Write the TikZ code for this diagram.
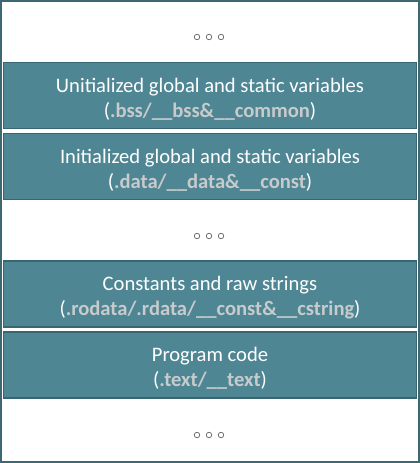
\documentclass[tikz,border=0pt]{standalone}
\usepackage{fontspec}
\setmainfont{Carlito}
\definecolor{frame}{HTML}{3D6771}
\definecolor{boxfill}{HTML}{4F8694}
\definecolor{boxedge}{HTML}{3A6672}
\definecolor{secgray}{HTML}{C8CBCC}
\definecolor{dotgray}{HTML}{707070}
\begin{document}
\begin{tikzpicture}[x=1pt,y=-1pt,
  segbox/.style={draw=boxedge, line width=1.6pt, fill=boxfill, minimum width=413pt, minimum height=66pt, inner sep=0pt},
  segtext/.style={inner sep=0pt, text=white, align=center, font=\fontsize{20.6}{25}\selectfont},
  dot/.style={circle, draw=dotgray, line width=0.8pt, minimum size=5.5pt, inner sep=0pt}]
\useasboundingbox (0,0) rectangle (420,463);
\node[draw=frame, line width=2.4pt, minimum width=418pt, minimum height=461pt, inner sep=0pt] (frm) at (210,231.5) {};
\node[segbox] (bss) at (210,95.5) {};
\node[segbox] (data) at (210,166.5) {};
\node[segbox] (rodata) at (210,294) {};
\node[segbox] (text) at (210,365) {};
\node[segtext] (bsst) at ([yshift=-3.5pt]bss.center) {Unitialized global and static variables\\(\textcolor{secgray}{\textbf{.bss/\_\_bss\&\_\_common}})};
\node[segtext] (datat) at ([yshift=-3.5pt]data.center) {Initialized global and static variables\\(\textcolor{secgray}{\textbf{.data/\_\_data\&\_\_const}})};
\node[segtext] (rodatat) at ([yshift=-3.5pt]rodata.center) {Constants and raw strings\\(\textcolor{secgray}{\textbf{.rodata/.rdata/\_\_const\&\_\_cstring}})};
\node[segtext] (textt) at ([yshift=-3.5pt]text.center) {Program code\\(\textcolor{secgray}{\textbf{.text/\_\_text}})};
\foreach \y/\n in {37/a,236/b,435/c}{
  \node[dot] (\n1) at (197,\y) {};
  \node[dot] (\n2) at (209,\y) {};
  \node[dot] (\n3) at (221,\y) {};
}
\end{tikzpicture}
\end{document}
